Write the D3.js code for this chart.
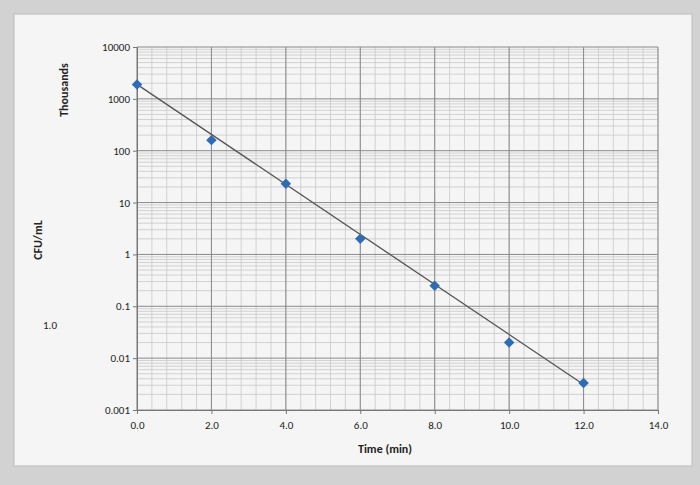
<!DOCTYPE html>
<html><head><meta charset="utf-8">
<script src="https://cdn.jsdelivr.net/npm/d3@7"></script>
<style>body{margin:0;background:#d4d4d4;font-family:Calibri,'Liberation Sans',Arial,sans-serif}</style>
</head><body><svg id="c" width="700" height="485"></svg>
<script>
const times = [0, 2, 4, 6, 8, 10, 12];
const cfu = [1900, 160, 23, 2.0, 0.25, 0.02, 0.0033];
const xTicks = [0, 2, 4, 6, 8, 10, 12, 14];
const yTicks = [0.001, 0.01, 0.1, 1, 10, 100, 1000, 10000];
const yTickLabels = ["0.001","0.01","0.1","1","10","100","1000","10000"];
const trendEnds = [[0, 1900], [12, 0.0031]];

const svg = d3.select("#c");
svg.append("rect").attr("x",0).attr("y",0).attr("width",700).attr("height",485).attr("fill","#d2d2d2");
svg.append("rect").attr("x",14).attr("y",14).attr("width",678).attr("height",452).attr("fill","#f5f5f5").attr("stroke","#bbb");

const L=137,R=658,T=47,B=410;
const x=d3.scaleLinear().domain([0,14]).range([L,R]);
const y=d3.scaleLog().domain([0.001,10000]).range([B,T]);
const g=svg.append("g");
d3.range(0,14.01,0.4).forEach(v=>g.append("line").attr("x1",x(v)).attr("x2",x(v)).attr("y1",T).attr("y2",B).attr("stroke","#c8c8c8").attr("stroke-width",0.8));
yTicks.slice(0,-1).forEach(d=>{for(let k=2;k<10;k++){const v=d*k;g.append("line").attr("x1",L).attr("x2",R).attr("y1",y(v)).attr("y2",y(v)).attr("stroke","#c8c8c8").attr("stroke-width",0.8);}});
xTicks.forEach(v=>g.append("line").attr("x1",x(v)).attr("x2",x(v)).attr("y1",T).attr("y2",B).attr("stroke","#8a8a8a").attr("stroke-width",1));
yTicks.forEach(v=>g.append("line").attr("x1",L).attr("x2",R).attr("y1",y(v)).attr("y2",y(v)).attr("stroke","#8a8a8a").attr("stroke-width",1));

const xa=svg.append("g").attr("transform",`translate(0,${B})`).call(d3.axisBottom(x).tickValues(xTicks).tickFormat(d3.format(".1f")).tickSize(4));
const ya=svg.append("g").attr("transform",`translate(${L},0)`).call(d3.axisLeft(y).tickValues(yTicks).tickFormat((d,i)=>yTickLabels[i]).tickSize(4));
[xa,ya].forEach(a=>{a.selectAll("path,line").attr("stroke","#777");a.selectAll("text").attr("font-size",11).attr("fill","#222").attr("font-family","Calibri,'Liberation Sans',Arial,sans-serif");});
xa.selectAll("text").attr("dy","1.1em");

svg.append("line").attr("x1",x(trendEnds[0][0])).attr("y1",y(trendEnds[0][1])).attr("x2",x(trendEnds[1][0])).attr("y2",y(trendEnds[1][1])).attr("stroke","#555").attr("stroke-width",1.3);
svg.selectAll(".pt").data(times).enter().append("path").attr("d",d3.symbol().type(d3.symbolSquare).size(55))
 .attr("transform",(d,i)=>`translate(${x(d)},${y(cfu[i])}) rotate(45)`).attr("fill","#2e6db4");

svg.append("text").attr("x",385).attr("y",453).attr("text-anchor","middle").attr("font-size",12).attr("font-weight","bold").attr("fill","#222").text("Time (min)");
svg.append("text").attr("transform","translate(68,90) rotate(-90)").attr("text-anchor","middle").attr("font-size",12).attr("font-weight","bold").attr("fill","#222").text("Thousands");
svg.append("text").attr("transform","translate(42,240) rotate(-90)").attr("text-anchor","middle").attr("font-size",12).attr("font-weight","bold").attr("fill","#222").text("CFU/mL");
svg.append("text").attr("x",50).attr("y",329).attr("text-anchor","middle").attr("font-size",11).attr("fill","#222").text("1.0");
</script></body></html>
